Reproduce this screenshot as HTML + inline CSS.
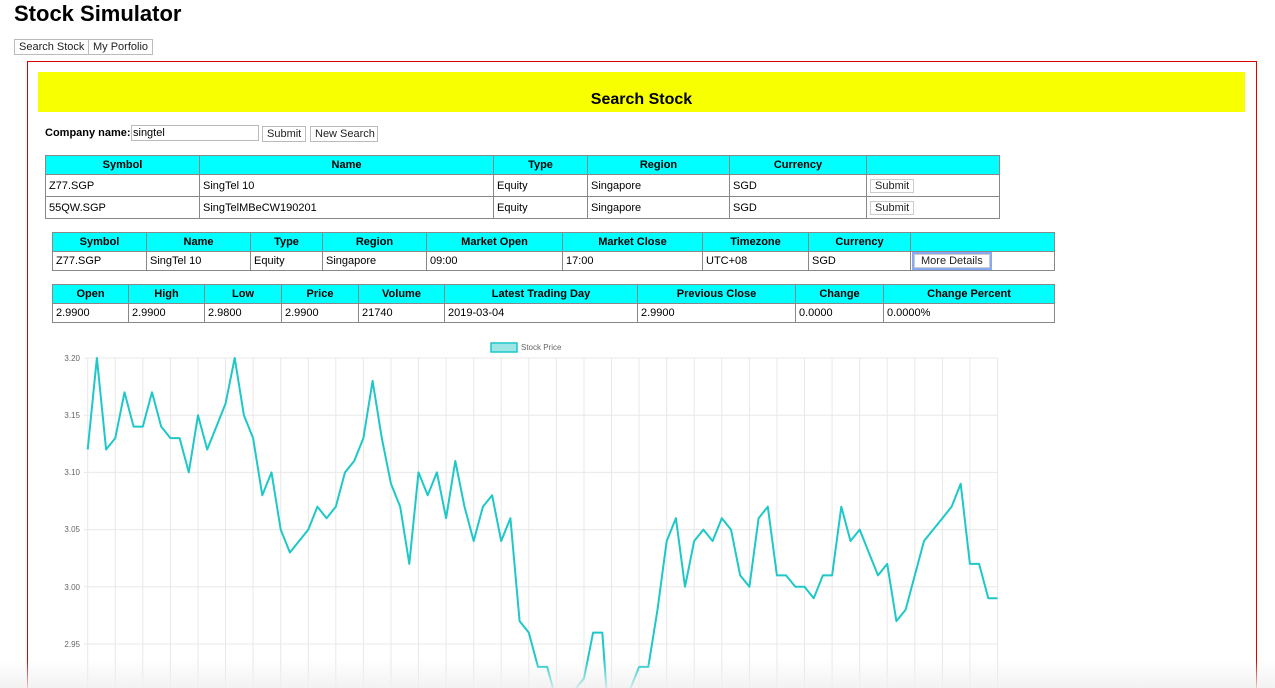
<!DOCTYPE html>
<html><head><meta charset="utf-8"><style>
*{box-sizing:border-box}
html,body{margin:0;width:1275px;height:688px;overflow:hidden}
body{background:#fff;font-family:"Liberation Sans",Arial,sans-serif;color:#000;position:relative}
.abs{position:absolute}
h1{position:absolute;left:14px;top:1px;margin:0;font-size:22px;font-weight:bold}
.btn{position:absolute;height:16px;border:1px solid #bbb;background:#fff;font-size:11px;line-height:14px;padding:0 4px;color:#222;white-space:nowrap;text-align:center}
table{position:absolute;border-collapse:collapse;table-layout:fixed;font-size:11px}
td,th{border:1px solid #888;padding:0 3px;white-space:nowrap;overflow:hidden}
th{background:#00ffff;font-weight:bold;text-align:center;height:19px}
td{text-align:left}
</style></head><body>
<h1>Stock Simulator</h1>
<div class="btn" style="left:14px;top:39px;width:75px">Search Stock</div>
<div class="btn" style="left:88px;top:39px;width:65px">My Porfolio</div>
<div class="abs" style="left:27px;top:61px;width:1230px;height:627px;border:1px solid #d00;border-bottom:none"></div>
<div class="abs" style="left:38px;top:72px;width:1207px;height:40px;background:#f8ff00;text-align:center;font-weight:bold;font-size:16px;padding-top:19px">Search Stock</div>
<div class="abs" style="left:45px;top:127px;font-size:11px;font-weight:bold">Company name:</div>
<div class="abs" style="left:131px;top:125px;width:128px;height:16px;border:1px solid #bbb;font-size:11px;padding:1px 1px;line-height:13px">singtel</div>
<div class="btn" style="left:262px;top:126px;width:44px">Submit</div>
<div class="btn" style="left:310px;top:126px;width:68px">New Search</div>

<table style="left:45px;top:155px;width:954px">
<colgroup><col style="width:154px"><col style="width:294px"><col style="width:94px"><col style="width:142px"><col style="width:137px"><col style="width:133px"></colgroup>
<tr><th>Symbol</th><th>Name</th><th>Type</th><th>Region</th><th>Currency</th><th></th></tr>
<tr style="height:22px"><td>Z77.SGP</td><td>SingTel 10</td><td>Equity</td><td>Singapore</td><td>SGD</td><td><span style="border:1px solid #ccc;padding:0 4px;color:#222">Submit</span></td></tr>
<tr style="height:22px"><td>55QW.SGP</td><td>SingTelMBeCW190201</td><td>Equity</td><td>Singapore</td><td>SGD</td><td><span style="border:1px solid #ccc;padding:0 4px;color:#222">Submit</span></td></tr>
</table>

<table style="left:52px;top:232px;width:1002px">
<colgroup><col style="width:94px"><col style="width:104px"><col style="width:72px"><col style="width:104px"><col style="width:136px"><col style="width:140px"><col style="width:106px"><col style="width:102px"><col style="width:144px"></colgroup>
<tr><th>Symbol</th><th>Name</th><th>Type</th><th>Region</th><th>Market Open</th><th>Market Close</th><th>Timezone</th><th>Currency</th><th></th></tr>
<tr style="height:19px"><td>Z77.SGP</td><td>SingTel 10</td><td>Equity</td><td>Singapore</td><td>09:00</td><td>17:00</td><td>UTC+08</td><td>SGD</td><td><span style="border:1px solid #ccc;outline:2px solid #8aa8f0;padding:0 6px;color:#222">More Details</span></td></tr>
</table>

<table style="left:52px;top:284px;width:1002px">
<colgroup><col style="width:76px"><col style="width:76px"><col style="width:77px"><col style="width:77px"><col style="width:86px"><col style="width:193px"><col style="width:158px"><col style="width:88px"><col style="width:171px"></colgroup>
<tr><th>Open</th><th>High</th><th>Low</th><th>Price</th><th>Volume</th><th>Latest Trading Day</th><th>Previous Close</th><th>Change</th><th>Change Percent</th></tr>
<tr style="height:19px"><td>2.9900</td><td>2.9900</td><td>2.9800</td><td>2.9900</td><td>21740</td><td>2019-03-04</td><td>2.9900</td><td>0.0000</td><td>0.0000%</td></tr>
</table>

<svg class="abs" style="left:0;top:0" width="1275" height="688" id="chart">
<rect x="491" y="343" width="26" height="9" fill="#9ee6e6" stroke="#1cc8c8" stroke-width="1.5"/>
<text x="521" y="350" font-size="8" fill="#666" font-family="Liberation Sans,sans-serif">Stock Price</text>
<g id="grid" stroke="#e8e8e8" stroke-width="1"></g>
<g font-size="8" fill="#666" font-family="Liberation Sans,sans-serif" text-anchor="end">
<text x="80" y="361">3.20</text><text x="80" y="418">3.15</text><text x="80" y="475">3.10</text><text x="80" y="532">3.05</text><text x="80" y="590">3.00</text><text x="80" y="647">2.95</text>
</g>
<polyline id="line" fill="none" stroke="#1ec8c8" stroke-width="2" stroke-linejoin="round"/>
</svg>
<div class="abs" style="left:0;top:660px;width:1275px;height:28px;background:linear-gradient(rgba(245,245,245,0),rgba(240,240,240,0.85))"></div>
<script>
var v=[3.12,3.20,3.12,3.13,3.17,3.14,3.14,3.17,3.14,3.13,3.13,3.10,3.15,3.12,3.14,3.16,3.20,3.15,3.13,3.08,3.10,3.05,3.03,3.04,3.05,3.07,3.06,3.07,3.10,3.11,3.13,3.18,3.13,3.09,3.07,3.02,3.10,3.08,3.10,3.06,3.11,3.07,3.04,3.07,3.08,3.04,3.06,2.97,2.96,2.93,2.93,2.90,2.88,2.91,2.92,2.96,2.96,2.85,2.85,2.91,2.93,2.93,2.98,3.04,3.06,3.00,3.04,3.05,3.04,3.06,3.05,3.01,3.00,3.06,3.07,3.01,3.01,3.00,3.00,2.99,3.01,3.01,3.07,3.04,3.05,3.03,3.01,3.02,2.97,2.98,3.01,3.04,3.05,3.06,3.07,3.09,3.02,3.02,2.99,2.99];
var n=v.length,x0=87.7,x1=997.5,st=(x1-x0)/(n-1),p=[];
for(var i=0;i<n;i++)p.push((x0+i*st).toFixed(1)+","+(358+(3.20-v[i])*1144).toFixed(1));
document.getElementById("line").setAttribute("points",p.join(" "));
var g=document.getElementById("grid"),s="";
for(var i=0;i<n;i+=3){var x=(x0+i*st).toFixed(1);s+='<line x1="'+x+'" y1="358" x2="'+x+'" y2="688"/>';}
s+='<line x1="'+x1+'" y1="358" x2="'+x1+'" y2="688"/>';
for(var k=0;k<6;k++){var y=358+k*57.2;s+='<line x1="84" y1="'+y+'" x2="998" y2="'+y+'"/>';}
g.innerHTML=s;
</script>
</body></html>
